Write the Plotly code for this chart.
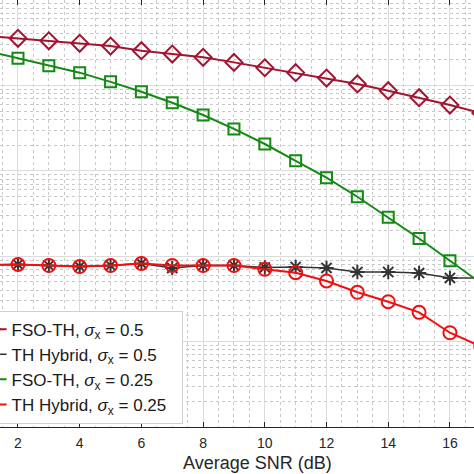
import plotly.graph_objects as go

# average SNR (dB)
snr = list(range(1, 18))

# BER values (log axis)
fso_th_05 = [0.380, 0.356, 0.333, 0.311, 0.289, 0.255, 0.233, 0.213, 0.186,
             0.161, 0.141, 0.122, 0.104, 0.0867, 0.0718, 0.0589, 0.0475]
th_hybrid_05 = [7.88e-4, 8.0e-4, 7.78e-4, 7.57e-4, 7.78e-4, 8.22e-4, 7.28e-4, 7.78e-4, 7.78e-4,
                7.38e-4, 7.48e-4, 7.28e-4, 6.53e-4, 6.53e-4, 6.35e-4, 5.56e-4, 5.56e-4]
fso_th_025 = [0.253, 0.208, 0.170, 0.141, 0.110, 0.0844, 0.0627, 0.0450, 0.0309,
              0.0206, 0.0131, 0.0083, 0.00497, 0.00286, 0.00161, 8.86e-4, 4.85e-4]
th_hybrid_025 = [7.88e-4, 8.0e-4, 7.78e-4, 7.57e-4, 7.78e-4, 8.22e-4, 7.78e-4, 7.78e-4, 7.78e-4,
                 7.03e-4, 6.41e-4, 5.13e-4, 3.78e-4, 2.93e-4, 2.20e-4, 1.27e-4, 8.77e-5]

series = [
    ("FSO-TH, <i>σ</i><sub>x</sub> = 0.5", fso_th_05, "#A2142F", "diamond-open", 13, 2),
    ("TH Hybrid, <i>σ</i><sub>x</sub> = 0.5", th_hybrid_05, "#333333", "asterisk-open", 12, 1.6),
    ("FSO-TH, <i>σ</i><sub>x</sub> = 0.25", fso_th_025, "#138A13", "square-open", 11, 2),
    ("TH Hybrid, <i>σ</i><sub>x</sub> = 0.25\u00a0\u00a0", th_hybrid_025, "#F01010", "circle-open", 13, 2),
]

fig = go.Figure()
for i, (name, vals, color, symbol, msize, lw) in enumerate(series):
    fig.add_trace(go.Scatter(
        x=snr, y=vals, name=name, mode="lines+markers",
        line=dict(color=color, width=lw),
        marker=dict(symbol=symbol, size=msize, color=color,
                    line=dict(color=color, width=2)),
        legendgroup=f"g{i}",
    ))

grid_minor = dict(showgrid=True, gridcolor="#c8c8c8", griddash="dot", gridwidth=1)

fig.update_layout(
    width=474, height=474,
    plot_bgcolor="white", paper_bgcolor="white",
    font=dict(family="Liberation Sans, Arial, sans-serif", size=16, color="#262626"),
    margin=dict(l=0, r=0, t=0, b=47, autoexpand=False),
    showlegend=True,
    legend=dict(
        x=-0.062, xanchor="left", y=0.008, yanchor="bottom",
        bgcolor="white", bordercolor="#d0d0d0", borderwidth=1,
        font=dict(size=17, color="#1a1a1a"),
        tracegroupgap=0,
    ),
    xaxis=dict(
        range=[1.417, 16.78], dtick=2, tick0=0,
        showgrid=True, gridcolor="#dcdcdc", gridwidth=1,
        minor=dict(dtick=0.5, **grid_minor),
        ticks="inside", ticklen=5, tickcolor="#262626",
        showline=True, linecolor="#262626", linewidth=1, mirror="ticks",
        zeroline=False,
        tickfont=dict(size=14), ticklabelstandoff=3,
    ),
    yaxis=dict(
        type="log", range=[-5, 0], dtick=1,
        showgrid=True, gridcolor="#dcdcdc", gridwidth=1,
        minor=dict(dtick="D1", **grid_minor),
        showticklabels=False, ticks="",
        showline=False, zeroline=False,
    ),
    annotations=[dict(
        text="Average SNR (dB)", xref="paper", yref="paper",
        x=0.543, y=-0.084, xanchor="center", yanchor="middle",
        showarrow=False, font=dict(size=18, color="#262626"),
    )],
)

# page body has a default margin; drop it so the figure sits at the window corner
fig.write_html("out.html", config={"displayModeBar": False},
               post_script="document.body.style.margin='0';")
